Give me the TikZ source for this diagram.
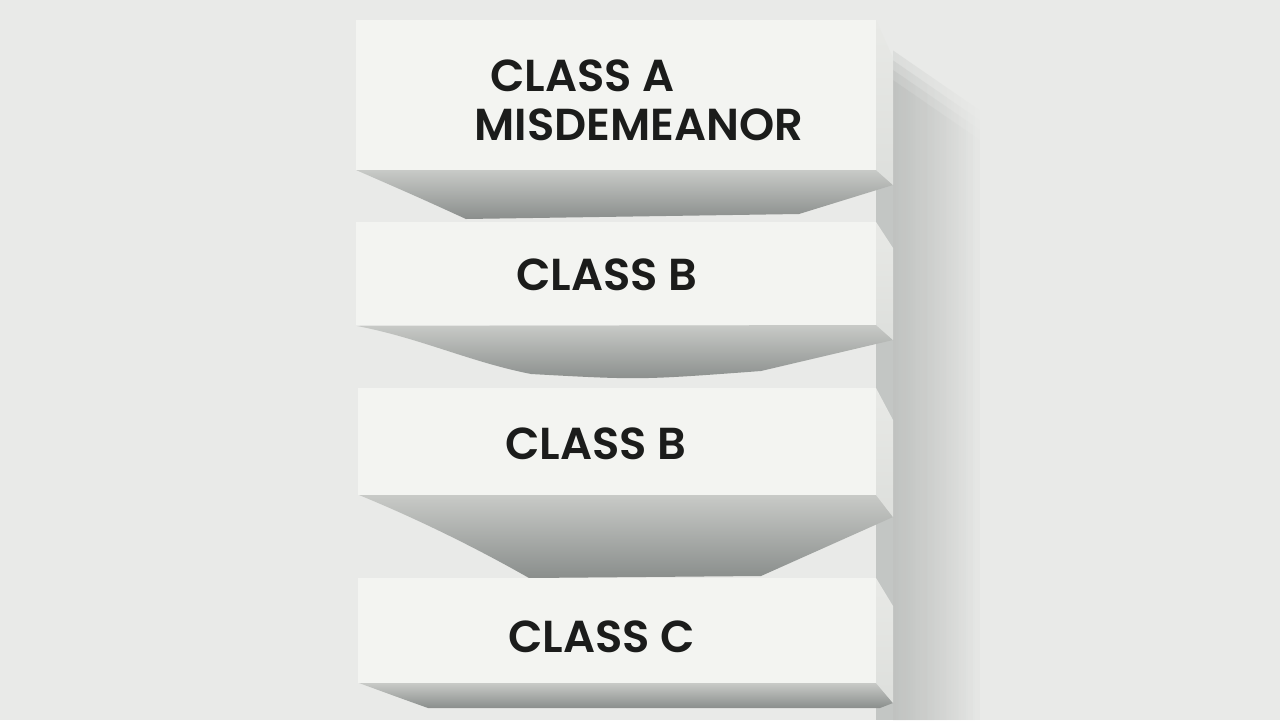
\documentclass[tikz,border=0pt]{standalone}
\usepackage{fontspec}
\setmainfont{Poppins}[BoldFont={Poppins SemiBold}]
\usetikzlibrary{fadings}
\definecolor{bg}{HTML}{E9EAE8}
\definecolor{frontc}{HTML}{F3F4F1}
\definecolor{sidetop}{HTML}{E8E9E6}
\definecolor{sidebot}{HTML}{DDDFDC}
\definecolor{undtop}{HTML}{C8CAC7}
\definecolor{undbot}{HTML}{8A8E8C}
\definecolor{shadowc}{HTML}{A6A9A7}
\definecolor{gapc}{HTML}{C3C6C4}
\definecolor{ink}{HTML}{1B1C1B}
\tikzfading[name=fadeout right, left color=transparent!0, right color=transparent!100]
\tikzset{
  x=0.02cm, y=-0.02cm,
  label text/.style={anchor=base west, inner sep=0pt, text=ink,
    font=\fontsize{25.5}{30}\selectfont\bfseries},
  frontface/.style={fill=frontc},
  sideface/.style={top color=sidetop, bottom color=sidebot},
  underface/.style={top color=undtop, bottom color=undbot},
  castshadow/.style={fill=shadowc, path fading=fadeout right, fill opacity=0.2},
}
\begin{document}
\begin{tikzpicture}
\fill[bg] (0,0) rectangle (1280,720);
\useasboundingbox (0,0) rectangle (1280,720);

% ---------- soft cast shadow of the stack on the wall ----------
\foreach \d in {0,10,20,30}{
  \fill[castshadow] (893,50+\d) -- (980,110+\d) -- (980,720) -- (893,720) -- cycle;
}
\fill[gapc] (876,100) rectangle (893,720);

% ---------- block 1 ----------
\shade[underface] (356,170) -- (876,170) -- (893,185) -- (799,214) -- (466,219)
  .. controls (420,198) .. (356,170) -- cycle;
\shade[sideface] (876,20) -- (893,58) -- (893,185) -- (876,170) -- cycle;
\fill[frontface] (356,20) rectangle (876,170);
\node[label text] (a1) at (490,91) {CLASS A};
\node[label text] (a2) at (474,140) {MISDEMEANOR};

% ---------- block 2 ----------
\shade[underface] (357,326) -- (876,325) -- (893,340) -- (761,371)
  .. controls (640,380) .. (531,374)
  .. controls (470,362) and (420,338) .. (357,326) -- cycle;
\shade[sideface] (876,222) -- (893,248) -- (893,340) -- (876,325) -- cycle;
\fill[frontface] (356,222) rectangle (876,325);
\node[label text] (b1) at (516,290) {CLASS B};

% ---------- block 3 ----------
\shade[underface] (359,495) -- (876,495) -- (893,517) -- (761,576) -- (529,578)
  .. controls (480,550) and (420,520) .. (359,495) -- cycle;
\shade[sideface] (876,388) -- (893,420) -- (893,517) -- (876,495) -- cycle;
\fill[frontface] (358,388) rectangle (876,495);
\node[label text] (b2) at (505,459) {CLASS B};

% ---------- block 4 ----------
\shade[underface] (359,683) -- (876,683) -- (893,703) -- (880,708) -- (428,708)
  .. controls (400,698) .. (359,683) -- cycle;
\shade[sideface] (876,578) -- (893,606) -- (893,703) -- (876,683) -- cycle;
\fill[frontface] (358,578) rectangle (876,683);
\node[label text] (c1) at (508,652) {CLASS C};
\end{tikzpicture}
\end{document}
